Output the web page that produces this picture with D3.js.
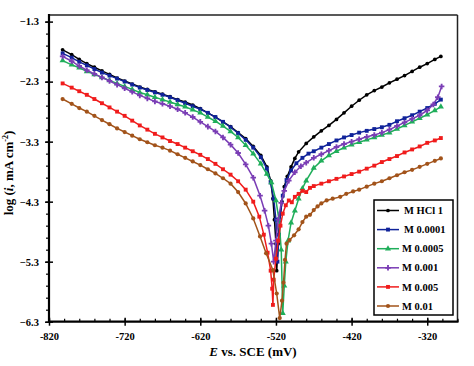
<!DOCTYPE html>
<html><head><meta charset="utf-8">
<script src="https://cdn.jsdelivr.net/npm/d3@7"></script>
<style>body{margin:0;background:#fff}svg{display:block}text{font-family:"Liberation Serif","Times New Roman",serif;font-weight:bold}</style>
</head><body><svg id="c" width="474" height="366"></svg>
<script>
const seriesNames = ["M HCl 1","M 0.0001","M 0.0005","M 0.001","M 0.005","M 0.01"];
const xTicks = [-820,-720,-620,-520,-420,-320];
const yTicks = [-6.3,-5.3,-4.3,-3.3,-2.3,-1.3];
const hcl1 = [[-802,-1.77],[-790,-1.85],[-780,-1.93],[-770,-2.00],[-760,-2.06],[-750,-2.12],[-740,-2.18],[-730,-2.24],[-720,-2.29],[-710,-2.34],[-700,-2.39],[-690,-2.43],[-680,-2.47],[-670,-2.51],[-660,-2.55],[-650,-2.60],[-640,-2.64],[-630,-2.69],[-620,-2.75],[-610,-2.82],[-600,-2.89],[-590,-2.97],[-580,-3.05],[-570,-3.15],[-560,-3.25],[-550,-3.38],[-540,-3.53],[-532,-3.72],[-527,-3.95],[-524,-4.25],[-522,-4.6],[-520,-5.0],[-519,-5.45],[-517,-5.0],[-515,-4.6],[-512,-4.3],[-509,-4.05],[-505,-3.88],[-500,-3.72],[-495,-3.58],[-490,-3.47],[-480,-3.33],[-470,-3.22],[-460,-3.12],[-450,-3.03],[-440,-2.93],[-430,-2.82],[-420,-2.71],[-410,-2.61],[-400,-2.52],[-390,-2.45],[-380,-2.39],[-370,-2.32],[-360,-2.26],[-350,-2.20],[-340,-2.13],[-330,-2.06],[-320,-2.00],[-310,-1.93],[-302,-1.88]];
const m0001 = [[-802,-1.83],[-790,-1.90],[-780,-1.97],[-770,-2.03],[-760,-2.09],[-750,-2.15],[-740,-2.20],[-730,-2.25],[-720,-2.30],[-710,-2.35],[-700,-2.40],[-690,-2.44],[-680,-2.48],[-670,-2.52],[-660,-2.56],[-650,-2.61],[-640,-2.66],[-630,-2.71],[-620,-2.76],[-610,-2.82],[-600,-2.89],[-590,-2.97],[-580,-3.06],[-570,-3.16],[-560,-3.27],[-550,-3.40],[-540,-3.56],[-532,-3.75],[-527,-3.98],[-523,-4.25],[-520,-4.6],[-518,-5.3],[-516,-4.85],[-514,-4.5],[-511,-4.2],[-506,-3.94],[-500,-3.78],[-493,-3.66],[-485,-3.57],[-477,-3.50],[-470,-3.46],[-460,-3.40],[-450,-3.34],[-440,-3.28],[-430,-3.23],[-420,-3.19],[-410,-3.15],[-400,-3.12],[-390,-3.09],[-380,-3.06],[-370,-3.02],[-360,-2.96],[-350,-2.91],[-340,-2.86],[-330,-2.80],[-320,-2.74],[-310,-2.67],[-302,-2.60]];
const m0005 = [[-802,-1.95],[-790,-2.02],[-780,-2.07],[-770,-2.13],[-760,-2.18],[-750,-2.23],[-740,-2.28],[-730,-2.33],[-720,-2.38],[-710,-2.43],[-700,-2.48],[-690,-2.52],[-680,-2.56],[-670,-2.60],[-660,-2.64],[-650,-2.68],[-640,-2.72],[-630,-2.77],[-620,-2.82],[-610,-2.89],[-600,-2.96],[-590,-3.04],[-580,-3.13],[-570,-3.23],[-560,-3.36],[-550,-3.50],[-540,-3.67],[-532,-3.84],[-526,-3.98],[-520,-4.28],[-516,-4.6],[-513,-5.1],[-511,-6.16],[-509,-5.7],[-507,-5.3],[-504,-4.95],[-500,-4.65],[-495,-4.45],[-490,-4.25],[-485,-4.08],[-480,-3.95],[-470,-3.74],[-460,-3.62],[-450,-3.53],[-440,-3.46],[-430,-3.40],[-420,-3.35],[-410,-3.31],[-400,-3.27],[-390,-3.23],[-380,-3.19],[-370,-3.15],[-360,-3.09],[-350,-3.03],[-340,-2.97],[-330,-2.91],[-320,-2.85],[-310,-2.78],[-302,-2.72]];
const m001 = [[-802,-1.88],[-790,-1.96],[-780,-2.04],[-770,-2.11],[-760,-2.17],[-750,-2.23],[-740,-2.29],[-730,-2.35],[-720,-2.41],[-710,-2.47],[-700,-2.53],[-690,-2.58],[-680,-2.63],[-670,-2.67],[-660,-2.71],[-650,-2.76],[-640,-2.82],[-630,-2.89],[-620,-2.97],[-610,-3.05],[-600,-3.13],[-590,-3.23],[-580,-3.35],[-570,-3.49],[-560,-3.68],[-550,-3.90],[-541,-4.2],[-535,-4.45],[-530,-4.7],[-526,-5.0],[-523,-5.3],[-520,-4.95],[-517,-4.6],[-513,-4.32],[-509,-4.12],[-503,-3.95],[-495,-3.81],[-487,-3.71],[-480,-3.65],[-470,-3.57],[-460,-3.51],[-450,-3.45],[-440,-3.39],[-430,-3.34],[-420,-3.30],[-410,-3.26],[-400,-3.22],[-390,-3.19],[-380,-3.15],[-370,-3.10],[-360,-3.04],[-350,-2.98],[-340,-2.92],[-330,-2.86],[-320,-2.78],[-312,-2.68],[-306,-2.56],[-301,-2.38]];
const m005 = [[-802,-2.33],[-790,-2.40],[-780,-2.46],[-770,-2.52],[-760,-2.59],[-750,-2.66],[-740,-2.73],[-730,-2.80],[-720,-2.87],[-710,-2.95],[-700,-3.03],[-690,-3.10],[-680,-3.17],[-670,-3.23],[-660,-3.29],[-650,-3.34],[-640,-3.40],[-630,-3.46],[-620,-3.52],[-610,-3.59],[-600,-3.67],[-590,-3.76],[-580,-3.85],[-570,-3.96],[-560,-4.10],[-550,-4.30],[-542,-4.55],[-536,-4.85],[-531,-5.15],[-527,-5.45],[-525,-5.75],[-524,-6.02],[-523,-5.6],[-520,-5.25],[-517,-4.95],[-514,-4.7],[-511,-4.5],[-507,-4.36],[-503,-4.28],[-499,-4.31],[-495,-4.22],[-490,-4.17],[-485,-4.12],[-480,-4.14],[-475,-4.07],[-470,-4.04],[-460,-4.00],[-450,-3.96],[-440,-3.92],[-430,-3.88],[-420,-3.84],[-410,-3.80],[-400,-3.75],[-390,-3.70],[-380,-3.64],[-370,-3.59],[-360,-3.54],[-350,-3.48],[-340,-3.43],[-330,-3.38],[-320,-3.32],[-310,-3.28],[-302,-3.24]];
const m01 = [[-802,-2.59],[-790,-2.67],[-780,-2.74],[-770,-2.80],[-760,-2.87],[-750,-2.94],[-740,-3.01],[-730,-3.08],[-720,-3.14],[-710,-3.20],[-700,-3.26],[-690,-3.31],[-680,-3.36],[-670,-3.40],[-660,-3.45],[-650,-3.51],[-640,-3.57],[-630,-3.63],[-620,-3.69],[-610,-3.76],[-600,-3.83],[-590,-3.91],[-580,-4.00],[-570,-4.14],[-560,-4.33],[-550,-4.58],[-541,-4.88],[-533,-5.16],[-524,-5.44],[-519,-5.83],[-515,-6.24],[-512,-5.95],[-510,-5.65],[-508,-5.27],[-506,-5.0],[-502,-4.94],[-496,-4.86],[-490,-4.76],[-485,-4.64],[-480,-4.55],[-475,-4.52],[-470,-4.44],[-465,-4.38],[-460,-4.33],[-453,-4.28],[-445,-4.25],[-435,-4.22],[-427,-4.17],[-418,-4.13],[-410,-4.10],[-400,-4.05],[-390,-4.00],[-380,-3.96],[-370,-3.91],[-360,-3.86],[-350,-3.81],[-340,-3.77],[-330,-3.72],[-320,-3.67],[-310,-3.62],[-302,-3.58]];

const allData = [hcl1, m0001, m0005, m001, m005, m01];
const colors = ["#000000","#10239a","#1fae5a","#7a3db5","#f01c1c","#a2531a"];
const symbols = [d3.symbolCircle, d3.symbolSquare, d3.symbolTriangle, d3.symbolCross, d3.symbolSquare, d3.symbolCircle];
const symSizes = [11, 15, 16, 17, 15, 14];

const svg = d3.select("#c");
const L = 49, R = 457.5, T = 15, B = 321.7;
const x = d3.scaleLinear().domain([-820, -280]).range([L, R]);
const y = d3.scaleLinear().domain([-6.3, -1.19]).range([B, T]);

svg.append("line").attr("x1", L).attr("x2", R).attr("y1", T).attr("y2", T).attr("stroke", "#222").attr("stroke-width", 1.5);
svg.append("line").attr("x1", R).attr("x2", R).attr("y1", T).attr("y2", B).attr("stroke", "#222").attr("stroke-width", 1.5);

const xMinor = d3.range(-820, -279, 20);
const gx = svg.append("g").attr("transform", `translate(0,${B})`);
gx.call(d3.axisBottom(x).tickValues(xMinor).tickSize(-3).tickFormat(""));
gx.selectAll(".tick line").attr("stroke", "#000").attr("stroke-width", 1.2);
const gx2 = svg.append("g").attr("transform", `translate(0,${B})`);
gx2.call(d3.axisBottom(x).tickValues(xTicks).tickSize(4).tickPadding(7).tickFormat(d => d));
gx2.selectAll(".tick line").attr("y1", -4).attr("stroke", "#000").attr("stroke-width", 1.5);
gx2.selectAll(".tick text").attr("font-size", 10.5).attr("fill", "#000").style("font-family", "Liberation Serif").style("font-weight", "bold");
gx.select(".domain").remove(); gx2.select(".domain").remove();
svg.append("line").attr("x1", L).attr("x2", R + 1).attr("y1", B).attr("y2", B).attr("stroke", "#000").attr("stroke-width", 2.2);

const yMinor = d3.range(0, 26).map(i => -6.3 + i * 0.2);
const gy = svg.append("g").attr("transform", `translate(${L},0)`);
gy.call(d3.axisLeft(y).tickValues(yMinor).tickSize(3).tickFormat(""));
gy.selectAll(".tick line").attr("stroke", "#000").attr("stroke-width", 1.2);
const gy2 = svg.append("g").attr("transform", `translate(${L},0)`);
gy2.call(d3.axisLeft(y).tickValues(yTicks).tickSize(4).tickPadding(6).tickFormat(d => d3.format(".1f")(d)));
gy2.selectAll(".tick line").attr("x1", 4).attr("stroke", "#000").attr("stroke-width", 1.5);
gy2.selectAll(".tick text").attr("font-size", 10.5).attr("fill", "#000").style("font-family", "Liberation Serif").style("font-weight", "bold");
gy.select(".domain").remove(); gy2.select(".domain").remove();
svg.append("line").attr("x1", L).attr("x2", L).attr("y1", T - 1).attr("y2", B + 1).attr("stroke", "#000").attr("stroke-width", 2.2);

const line = d3.line().x(d => x(d[0])).y(d => y(d[1]));
allData.forEach((data, i) => {
  const g = svg.append("g");
  g.append("path").attr("d", line(data)).attr("fill", "none").attr("stroke", colors[i]).attr("stroke-width", 1.5);
  g.selectAll("path.m").data(data).join("path").attr("class", "m")
    .attr("transform", d => `translate(${x(d[0])},${y(d[1])})`)
    .attr("d", d3.symbol().type(symbols[i]).size(symSizes[i])).attr("fill", colors[i]);
});

const lg = svg.append("g");
lg.append("rect").attr("x", 374).attr("y", 200).attr("width", 79).attr("height", 115).attr("fill", "#fff").attr("stroke", "#000").attr("stroke-width", 1.5);
seriesNames.forEach((name, i) => {
  const yy = 210.5 + i * 19.1;
  lg.append("line").attr("x1", 377).attr("x2", 399).attr("y1", yy).attr("y2", yy).attr("stroke", colors[i]).attr("stroke-width", 1.5);
  lg.append("path").attr("transform", `translate(388,${yy})`).attr("d", d3.symbol().type(symbols[i]).size(symSizes[i])()).attr("fill", colors[i]);
  lg.append("text").attr("x", i < 2 ? 404 : 402).attr("y", yy + 3.6).attr("font-size", 10.5).attr("fill", "#000").text(name);
});

const xt = svg.append("text").attr("x", 253).attr("y", 356).attr("text-anchor", "middle").attr("font-size", 13).attr("fill", "#000");
xt.append("tspan").attr("font-style", "italic").text("E");
xt.append("tspan").text(" vs. SCE (mV)");
const yt = svg.append("text").attr("transform", "translate(13,173) rotate(-90)").attr("text-anchor", "middle").attr("font-size", 13).attr("fill", "#000");
yt.append("tspan").text("log (");
yt.append("tspan").attr("font-style", "italic").text("i");
yt.append("tspan").text(", mA cm");
yt.append("tspan").attr("font-size", 8).attr("dy", -5).text("-2");
yt.append("tspan").attr("dy", 5).text(")");
</script></body></html>
